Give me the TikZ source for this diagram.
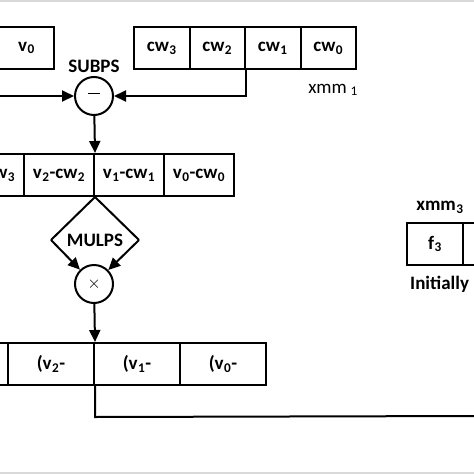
\documentclass[tikz,border=0pt]{standalone}
\usepackage{fontspec}
\setmainfont{Carlito}
\usetikzlibrary{arrows.meta}
\newcommand{\sbs}[1]{\kern0.5pt\textsubscript{#1}}
\begin{document}
\begin{tikzpicture}[x=1pt,y=-1pt,
  reg/.style={draw, line width=2pt, minimum height=42pt, inner sep=0pt, font=\fontsize{19}{22}\selectfont\bfseries},
  op/.style={draw, circle, line width=2pt, minimum size=38pt, inner sep=0pt, fill=white, font=\fontsize{19}{22}\selectfont},
  lbl/.style={inner sep=0pt, font=\fontsize{19}{22}\selectfont\bfseries},
  plainlbl/.style={inner sep=0pt, font=\fontsize{19}{22}\selectfont},
  conn/.style={line width=2pt},
  arr/.style={conn, -{Triangle[length=12pt,width=11pt]}}]
\useasboundingbox (0,0) rectangle (474,474);
\clip (0,0) rectangle (474,474);
\fill[black!15] (0,0) rectangle (474,2);
\fill[black!15] (0,472) rectangle (474,474);

% top row
\node[reg, minimum width=55pt] (v0) at (26.5,48) {v\sbs{0}};
\node[reg, minimum width=55.5pt] (cw3) at (161.75,48) {cw\sbs{3}};
\node[reg, minimum width=55.5pt] (cw2) at (217.25,48) {cw\sbs{2}};
\node[reg, minimum width=55.5pt] (cw1) at (272.75,48) {cw\sbs{1}};
\node[reg, minimum width=55.5pt] (cw0) at (328.25,48) {cw\sbs{0}};
\node[plainlbl] (xmm1) at (333,90) {xmm\,\sbs{1}};

% subtraction
\node[lbl] (subl) at (94,66) {SUBPS};
\node[op] (sub) at (94,96) {\rule[0.28em]{12pt}{1.6pt}};
\coordinate (lin) at (-5,96);
\draw[arr] (lin) -- (sub);
\draw[arr] (cw2.south east) -- (cw2.south east |- sub) -- (sub);

% middle row
\node[reg, minimum width=70pt] (d3) at (-11,175) {v\sbs{3}-cw\sbs{3}};
\node[reg, minimum width=70pt] (d2) at (59,175) {v\sbs{2}-cw\sbs{2}};
\node[reg, minimum width=70pt] (d1) at (129,175) {v\sbs{1}-cw\sbs{1}};
\node[reg, minimum width=70pt] (d0) at (199,175) {v\sbs{0}-cw\sbs{0}};
\draw[arr] (sub) -- (d2.north east);

% multiplication
\coordinate (dtop) at (d2.south east);
\coordinate (dl) at (51,240);
\coordinate (dr) at (139,240);
\draw[conn] (dl) -- (dtop) -- (dr);
\node[lbl] (mull) at (95,240) {MULPS};
\node[op] (mul) at (94,284) {$\times$};
\draw[arr] (dl) -- (mul);
\draw[arr] (dr) -- (mul);

% bottom row
\node[reg, minimum width=86pt] (b3) at (-35,364) {};
\node[reg, minimum width=86pt] (b2) at (51,364) {(v\sbs{2}-};
\node[reg, minimum width=86pt] (b1) at (137,364) {(v\sbs{1}-};
\node[reg, minimum width=86pt] (b0) at (223,364) {(v\sbs{0}-};
\draw[arr] (mul) -- (b2.north east);
\coordinate (endc) at (480,416);
\draw[conn] (b2.south east) -- ++(0,31) -- (endc);

% xmm3
\node[lbl] (xmm3) at (440,207) {xmm\sbs{3}};
\node[reg, minimum width=56pt] (f3) at (435,244) {f\sbs{3}};
\node[reg, minimum width=56pt] (f2) at (491,244) {};
\node[lbl, anchor=west] (init) at (410,284) {Initially};
\end{tikzpicture}
\end{document}
